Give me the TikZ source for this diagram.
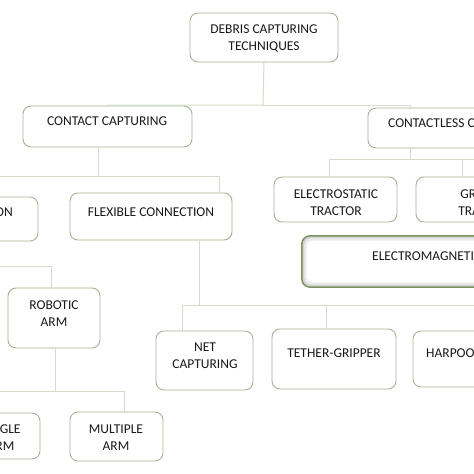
\documentclass[tikz,border=0pt]{standalone}
\usepackage{fontspec}
\setmainfont{Carlito}
\definecolor{boxline}{HTML}{A6B393}
\definecolor{conline}{HTML}{D5DBCB}
\definecolor{emline}{HTML}{7E9062}
\begin{document}
\begin{tikzpicture}[x=1pt,y=-1pt,
  box/.style={draw=boxline,line width=0.9pt,rounded corners=8pt,fill=white,inner sep=0pt,rectangle},
  lbl/.style={font=\fontsize{13.5}{17.5}\selectfont,align=center,inner sep=0pt,text=black!90},
  con/.style={draw=conline,line width=1pt}]
\useasboundingbox (0,0) rectangle (474,474);
\clip (0,0) rectangle (474,474);
\fill[white] (0,0) rectangle (474,474);
% junctions
\coordinate (j1) at (263,105);
\coordinate (j2) at (98,176);
\coordinate (j3) at (410,159);
\coordinate (j4) at (-50,266);
\coordinate (j5) at (199,305);
\coordinate (j6) at (55,391);
% boxes
\node[box,minimum width=148pt,minimum height=49pt] (debris) at (264,37.5) {};
\node[box,minimum width=169pt,minimum height=41pt] (contact) at (107.5,126.5) {};
\node[box,minimum width=162pt,minimum height=40pt] (contactless) at (449,128) {};
\node[box,minimum width=168pt,minimum height=44pt] (rigid) at (-46,219) {};
\node[box,minimum width=162pt,minimum height=47pt] (flexible) at (151,216.5) {};
\node[box,minimum width=123pt,minimum height=45pt] (estatic) at (335.5,199.5) {};
\node[box,minimum width=136pt,minimum height=45pt] (gravity) at (484,199.5) {};
\node[box,minimum width=92pt,minimum height=60pt] (robotic) at (54,318) {};
\node[box,minimum width=97pt,minimum height=59pt] (net) at (204.5,360.5) {};
\node[box,minimum width=124pt,minimum height=60pt] (tether) at (334,359) {};
\node[box,minimum width=127pt,minimum height=56pt] (harpoon) at (476.5,359) {};
\node[box,minimum width=84pt,minimum height=46pt] (single) at (-2,436) {};
\node[box,minimum width=93pt,minimum height=49pt] (multiple) at (116.5,436.5) {};
\node[box,draw=emline,line width=1.8pt,minimum width=258pt,minimum height=51pt] (emag) at (431,261.5) {};
\draw[gray!35,line width=2pt,rounded corners=7pt] ([shift={(2.5,2.5)}]emag.north west) rectangle ([shift={(-2.5,-2.5)}]emag.south east);
\draw[gray!15,line width=2pt,rounded corners=6pt] ([shift={(4.5,4.5)}]emag.north west) rectangle ([shift={(-4.5,-4.5)}]emag.south east);
% connectors
\draw[con] (debris.south) -- (j1) -| (contact.north);
\draw[con] (j1) -| (contactless.north -| 410,0);
\draw[con] (contact.south -| 98,0) -- (j2) -| (flexible.north -| 219,0);
\draw[con] (j2) -| (rigid.north);
\draw[con] (contactless.south -| 410,0) -- (j3) -| (estatic.north -| 329,0);
\draw[con] (j3) -| (gravity.north -| 462,0);
\draw[con] (j3) -- (500,159);
\draw[con] (rigid.south -| j4) -- (j4) -| (robotic.north -| 51,0);
\draw[con] (flexible.south -| 199,0) -- (j5) -| (net.north -| 182,0);
\draw[con] (j5) -| (tether.north -| 326,0);
\draw[con] (j5) -- (500,305);
\draw[con] (robotic.south -| 55,0) -- (j6) -| (multiple.north -| 124,0);
\draw[con] (j6) -| (single.north);
% labels
\node[lbl] (debrisT) at (264,38.5) {DEBRIS CAPTURING\\TECHNIQUES};
\node[lbl] (contactT) at (107,121) {CONTACT CAPTURING};
\node[lbl,anchor=west] (contactlessT) at (388,123) {CONTACTLESS CAPTURING};
\node[lbl,anchor=east] (rigidT) at (13,212) {RIGID CONNECTION};
\node[lbl] (flexibleT) at (151,212) {FLEXIBLE CONNECTION};
\node[lbl] (estaticT) at (336,202.5) {ELECTROSTATIC\\TRACTOR};
\node[lbl] (gravityT) at (484,202.5) {GRAVITY\\TRACTOR};
\node[lbl,anchor=west] (emagT) at (372,256) {ELECTROMAGNETIC};
\node[lbl] (robT) at (54,313.5) {ROBOTIC\\ARM};
\node[lbl] (netT) at (205,355.5) {NET\\CAPTURING};
\node[lbl] (tetherT) at (334,353) {TETHER-GRIPPER};
\node[lbl,anchor=west] (harpoonT) at (426,353) {HARPOON};
\node[lbl] (singleT) at (1,437.5) {SINGLE\\ARM};
\node[lbl] (multipleT) at (116,437.5) {MULTIPLE\\ARM};
\end{tikzpicture}
\end{document}
